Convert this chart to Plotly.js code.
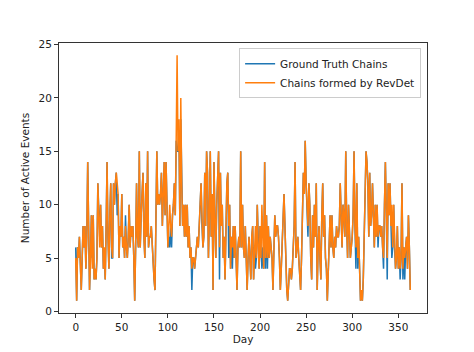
<!DOCTYPE html>
<html>
<head>
<meta charset="utf-8">
<script src="https://cdn.plot.ly/plotly-3.0.1.min.js"></script>
<style>html,body{margin:0;padding:0;background:#fff;}#chart{width:474px;height:352px;}</style>
</head>
<body>
<div id="chart"></div>
<script>
var revdet = [
5,1,6,5,7,3,2,5,8,6, 8,4,7,14,6,2,5,9,4,9, 3,4,3,5,12,8,6,10,6,8,
4,6,3,8,14,7,4,9,12,6, 5,12,10,12,13,12,11,5,8,7, 11,6,7,5,8,6,5,7,10,6,
8,7,8,5,1,6,12,7,6,15, 6,9,12,13,7,5,12,7,15,6, 7,7,8,6,4,3,2,11,15,10,
11,10,11,13,8,11,14,9,14,10, 6,8,10,8,7,9,10,12,9,16, 24,15,18,8,20,12,8,10,7,10,
7,10,6,8,5,6,4,5,5,4, 5,6,7,6,8,9,12,9,6,7, 13,8,15,13,5,9,15,7,11,2,
14,9,5,10,12,15,6,13,8,10, 5,7,3,8,12,13,8,10,4,7, 6,8,5,8,4,2,6,7,6,15,
6,10,6,5,8,3,2,5,7,5, 3,7,8,3,6,8,5,10,6,4, 8,5,10,6,4,14,5,9,5,8,
5,7,6,5,2,6,9,7,8,8, 7,5,2,4,6,9,11,8,4,2, 1,3,4,4,3,4,6,8,14,5,
6,7,5,3,2,5,8,13,11,16, 12,10,8,12,10,5,3,9,6,10, 7,12,2,6,8,5,3,9,12,7,
9,5,4,1,4,7,9,6,9,6, 5,7,6,8,7,7,8,12,7,6, 10,9,7,15,8,5,10,7,5,6,
7,9,15,8,6,12,5,7,3,1, 2,1,3,9,11,15,14,12,7,13, 8,9,12,9,6,10,7,10,7,8,
8,7,8,6,5,10,14,9,5,12, 9,12,8,10,6,10,6,4,5,8, 4,6,4,5,12,4,6,5,6,7,
4,9,6,2
];
var groundTruth = [
6,1,6,5,7,3,2,5,8,6, 8,4,7,14,6,2,5,9,5,9, 3,4,3,5,12,8,7,10,6,8,
4,5,3,8,14,7,4,9,12,5, 5,12,10,12,13,9,11,5,8,7, 11,6,7,5,9,6,5,7,10,6,
8,7,8,5,1,6,12,7,6,15, 6,9,12,13,7,5,12,7,15,6, 7,7,8,6,4,3,2,11,15,10,
11,10,11,13,8,11,14,9,14,10, 6,7,6,8,6,9,10,12,9,16, 15,15,17,8,18,13,8,10,7,10,
7,10,6,8,5,6,2,5,5,4, 5,6,7,6,8,9,12,8,6,7, 13,8,15,13,5,9,15,7,11,2,
14,9,5,10,12,15,3,13,8,10, 5,7,3,8,12,13,5,10,4,7, 4,8,5,8,4,2,6,7,6,15,
6,10,6,5,8,3,2,5,7,5, 3,7,8,3,6,4,5,10,6,4, 8,5,4,6,4,14,4,9,4,8,
5,7,6,5,2,6,9,7,8,8, 7,5,2,4,6,9,11,8,4,2, 1,3,4,4,3,4,6,8,14,5,
6,7,5,3,2,5,8,13,11,16, 12,10,7,12,10,5,3,9,6,10, 7,12,2,6,8,5,3,9,12,7,
9,5,4,1,4,7,9,6,9,6, 5,7,6,8,7,7,8,12,7,6, 10,9,7,15,8,5,10,7,5,6,
7,9,15,8,4,12,4,7,3,1, 2,1,3,9,11,15,14,12,7,13, 8,9,12,9,6,10,7,10,6,8,
8,7,8,6,4,10,14,9,3,12, 9,12,8,5,6,10,6,4,5,8, 4,6,3,5,12,3,6,3,6,7,
4,9,6,2
];
var days = revdet.map(function(_, i){ return i; });
var xTicks = [0,50,100,150,200,250,300,350];
var yTicks = [0,5,10,15,20,25];
var seriesNames = ["Ground Truth Chains", "Chains formed by RevDet"];

var font = {family: "DejaVu Sans, sans-serif", size: 10.5, color: "#222"};
var traces = [
  {x: days, y: groundTruth, type: "scatter", mode: "lines", name: seriesNames[0],
   line: {color: "#1f77b4", width: 1.5}},
  {x: days, y: revdet, type: "scatter", mode: "lines", name: seriesNames[1],
   line: {color: "#ff7f0e", width: 1.5}}
];
var axisCommon = {
  showgrid: false, zeroline: false, showline: true, mirror: true,
  linecolor: "#333", linewidth: 1, ticks: "outside", ticklen: 4, tickwidth: 1,
  tickcolor: "#333", tickfont: font
};
var layout = {
  width: 474, height: 352,
  margin: {l: 59, r: 47, t: 43, b: 39},
  paper_bgcolor: "#fff", plot_bgcolor: "#fff",
  font: font,
  showlegend: true,
  legend: {x: 0.984, y: 0.981, xanchor: "right", yanchor: "top",
    bgcolor: "rgba(255,255,255,0.8)", bordercolor: "#ccc", borderwidth: 1,
    font: {family: "DejaVu Sans, sans-serif", size: 10.5, color: "#222"},
    tracegroupgap: 0},
  xaxis: Object.assign({}, axisCommon, {range: [-18.15, 381.15], tickvals: xTicks,
    title: {text: "Day", font: font, standoff: 4}}),
  yaxis: Object.assign({}, axisCommon, {range: [-0.15, 25.15], tickvals: yTicks,
    title: {text: "Number of Active Events", font: font, standoff: 6}})
};
Plotly.newPlot("chart", traces, layout, {displayModeBar: false, staticPlot: true});
</script>
</body>
</html>
